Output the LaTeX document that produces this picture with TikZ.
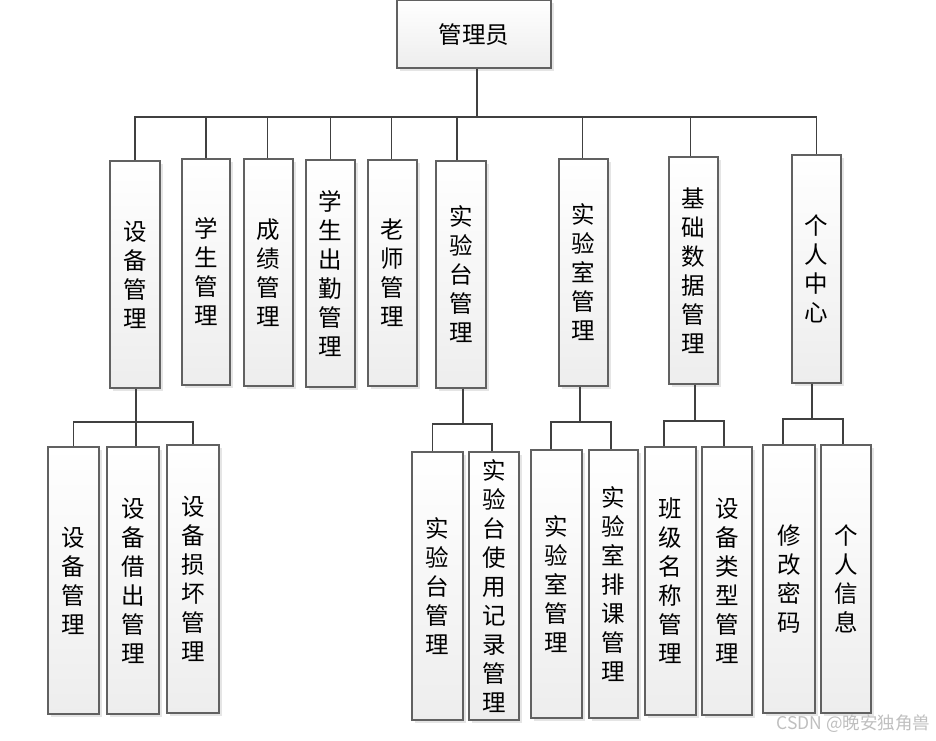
\documentclass[tikz,border=0pt]{standalone}
\usepackage{fontspec}
\newfontfamily\cjk{Noto Sans CJK SC}
\usetikzlibrary{shadows}
\tikzset{
  box/.style={draw=black!62, line width=1.1pt, top color=white, bottom color=black!7,
    inner sep=0pt, font=\cjk\fontsize{23.5}{29}\selectfont, align=center,
    drop shadow={shadow xshift=2.5pt, shadow yshift=-2.5pt, fill=black!25, opacity=.4}},
  conn/.style={draw=black!75, line width=1.8pt},
  wmark/.style={font=\cjk\fontsize{17.5}{17.5}\selectfont, text=black!25, anchor=east}
}
\newcommand\mybox[6]{\node[box, minimum width={(#4-#2)*1pt}, minimum height={(#5-#3)*1pt}] (#1) at ({(#2+#4)/2},{(#3+#5)/2}) {#6};}
\begin{document}
\begin{tikzpicture}[x=1pt,y=-1pt]
\useasboundingbox (0,0) rectangle (936,740);
% root
\mybox{root}{397}{0.6}{551}{68}{管理员}
% level 1
\mybox{b1}{110}{161}{160}{388}{设\\备\\管\\理}
\mybox{b2}{182}{159}{230}{385}{学\\生\\管\\理}
\mybox{b3}{244}{159}{293}{386}{成\\绩\\管\\理}
\mybox{b4}{306}{160}{355}{387}{学\\生\\出\\勤\\管\\理}
\mybox{b5}{368}{160}{417}{386}{老\\师\\管\\理}
\mybox{b6}{436}{161}{486}{388}{实\\验\\台\\管\\理}
\mybox{b7}{559}{159}{608}{386}{实\\验\\室\\管\\理}
\mybox{b8}{669}{157}{718}{384}{基\\础\\数\\据\\管\\理}
\mybox{b9}{792}{155}{841}{383}{个\\人\\中\\心}
% level 2
\mybox{c11}{48}{447}{99}{714}{设\\备\\管\\理}
\mybox{c12}{107}{447}{159}{714}{设\\备\\借\\出\\管\\理}
\mybox{c13}{167}{445}{219}{713}{设\\备\\损\\坏\\管\\理}
\mybox{c61}{412}{452}{463}{720}{实\\验\\台\\管\\理}
\mybox{c62}{469}{452}{519}{720}{实\\验\\台\\使\\用\\记\\录\\管\\理}
\mybox{c71}{531}{450}{582}{718}{实\\验\\室\\管\\理}
\mybox{c72}{589}{450}{638}{718}{实\\验\\室\\排\\课\\管\\理}
\mybox{c81}{645}{447}{696}{715}{班\\级\\名\\称\\管\\理}
\mybox{c82}{702}{447}{752}{715}{设\\备\\类\\型\\管\\理}
\mybox{c91}{763}{445}{815}{713}{修\\改\\密\\码}
\mybox{c92}{821}{445}{871}{713}{个\\人\\信\\息}
% connectors level 1
\coordinate (bus) at (0,117);
\draw[conn] ([xshift=3pt]root.south) -- ([xshift=3pt]root.south |- bus);
\draw[conn] (b1.north) -- (b1.north |- bus) -- (b9.north |- bus) -- (b9.north);
\foreach \n/\s in {b2/0,b3/-1,b4/0,b5/-1,b6/-4,b7/-1,b8/-3}
  \draw[conn] ([xshift=\s pt]\n.north) -- ([xshift=\s pt]\n.north |- bus);
% group 1
\coordinate (g1) at (0,422);
\draw[conn] ([xshift=1pt]b1.south) -- ([xshift=1pt]b1.south |- c12.north);
\draw[conn] (c11.north) -- (c11.north |- g1) -- (c13.north |- g1) -- (c13.north);
% group 2
\coordinate (g2) at (0,424);
\draw[conn] ([xshift=2pt]b6.south) -- ([xshift=2pt]b6.south |- g2);
\draw[conn] ([xshift=-5pt]c61.north) -- ([xshift=-5pt]c61.north |- g2) -- ([xshift=-2pt]c62.north |- g2) -- ([xshift=-2pt]c62.north);
% group 3
\coordinate (g3) at (0,422);
\draw[conn] ([xshift=-3.5pt]b7.south) -- ([xshift=-3.5pt]b7.south |- g3);
\draw[conn] ([xshift=-5.5pt]c71.north) -- ([xshift=-5.5pt]c71.north |- g3) -- ([xshift=-2.5pt]c72.north |- g3) -- ([xshift=-2.5pt]c72.north);
% group 4
\coordinate (g4) at (0,421);
\draw[conn] ([xshift=1.5pt]b8.south) -- ([xshift=1.5pt]b8.south |- g4);
\draw[conn] ([xshift=-6.5pt]c81.north) -- ([xshift=-6.5pt]c81.north |- g4) -- ([xshift=-3pt]c82.north |- g4) -- ([xshift=-3pt]c82.north);
% group 5
\coordinate (g5) at (0,419);
\draw[conn] ([xshift=-4.5pt]b9.south) -- ([xshift=-4.5pt]b9.south |- g5);
\draw[conn] ([xshift=-6pt]c91.north) -- ([xshift=-6pt]c91.north |- g5) -- ([xshift=-3pt]c92.north |- g5) -- ([xshift=-3pt]c92.north);
% watermark
\node[wmark] (wm) at (934,724) {CSDN @晚安独角兽};
\end{tikzpicture}
\end{document}
